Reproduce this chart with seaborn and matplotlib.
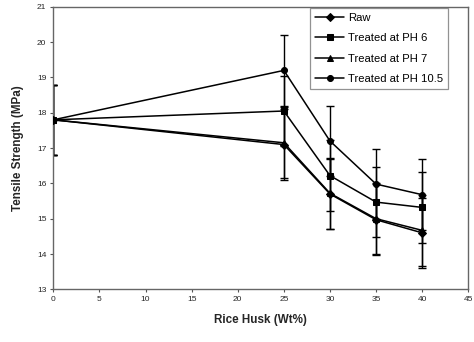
import matplotlib
matplotlib.use("Agg")
import matplotlib.pyplot as plt
import seaborn as sns
import pandas as pd

rice_husk = [0, 25, 30, 35, 40]
raw = [17.8, 17.1, 15.7, 14.97, 14.6]
ph6 = [17.8, 18.05, 16.22, 15.47, 15.32]
ph7 = [17.8, 17.15, 15.72, 15.0, 14.67]
ph105 = [17.8, 19.2, 17.2, 15.98, 15.68]
err = [1.0, 1.0, 1.0, 1.0, 1.0]
series_names = ["Raw", "Treated at PH 6", "Treated at PH 7", "Treated at PH 10.5"]
x_ticks = [0, 5, 10, 15, 20, 25, 30, 35, 40, 45]
y_ticks = [13, 14, 15, 16, 17, 18, 19, 20, 21]

sns.set_theme(style="white")
plt.rcParams['font.family'] = ['Liberation Sans', 'DejaVu Sans']

values = [raw, ph6, ph7, ph105]
rows = []
for name, vals in zip(series_names, values):
    for xv, yv in zip(rice_husk, vals):
        rows.append({"x": xv, "y": yv, "Series": name})
df = pd.DataFrame(rows)

fig = plt.figure(figsize=(4.74, 3.42), dpi=100)
ax = fig.add_axes([0.1125, 0.154, 0.8755, 0.826])

markers = {"Raw": "D", "Treated at PH 6": "s", "Treated at PH 7": "^", "Treated at PH 10.5": "o"}

for name, vals in zip(series_names, values):
    ax.errorbar(rice_husk, vals, yerr=err, fmt="none", ecolor="black",
                elinewidth=1.0, capsize=3, capthick=1.0, zorder=2)

sns.lineplot(data=df, x="x", y="y", hue="Series", style="Series",
             palette={n: "black" for n in series_names},
             markers=markers, dashes=False, linewidth=1.1,
             markersize=4.3, markeredgecolor="black", ax=ax, zorder=3)

ax.set_xlim(0, 45)
ax.set_ylim(13, 21)
ax.set_xticks(x_ticks)
ax.set_yticks(y_ticks)
ax.tick_params(axis="both", labelsize=6, length=2, width=0.8, color="#555555", pad=3,
               left=True, bottom=True)
for s in ax.spines.values():
    s.set_color("#666666")
    s.set_linewidth(1.0)
    s.set_visible(True)

ax.set_xlabel("Rice Husk (Wt%)", fontsize=8.4, fontweight="bold", labelpad=8)
ax.set_ylabel("Tensile Strength (MPa)", fontsize=8.4, fontweight="bold", labelpad=9)

leg = ax.legend(loc="upper right", bbox_to_anchor=(0.951, 0.996), fontsize=8.1,
                frameon=True, fancybox=False, edgecolor="#777777",
                handlelength=2.6, handletextpad=0.3, labelspacing=0.92,
                borderpad=0.45, borderaxespad=0.0, markerscale=1.0)
leg.get_frame().set_linewidth(0.9)
for t in leg.get_texts():
    t.set_color("black")

fig.savefig("out.png", dpi=100, facecolor="white")
